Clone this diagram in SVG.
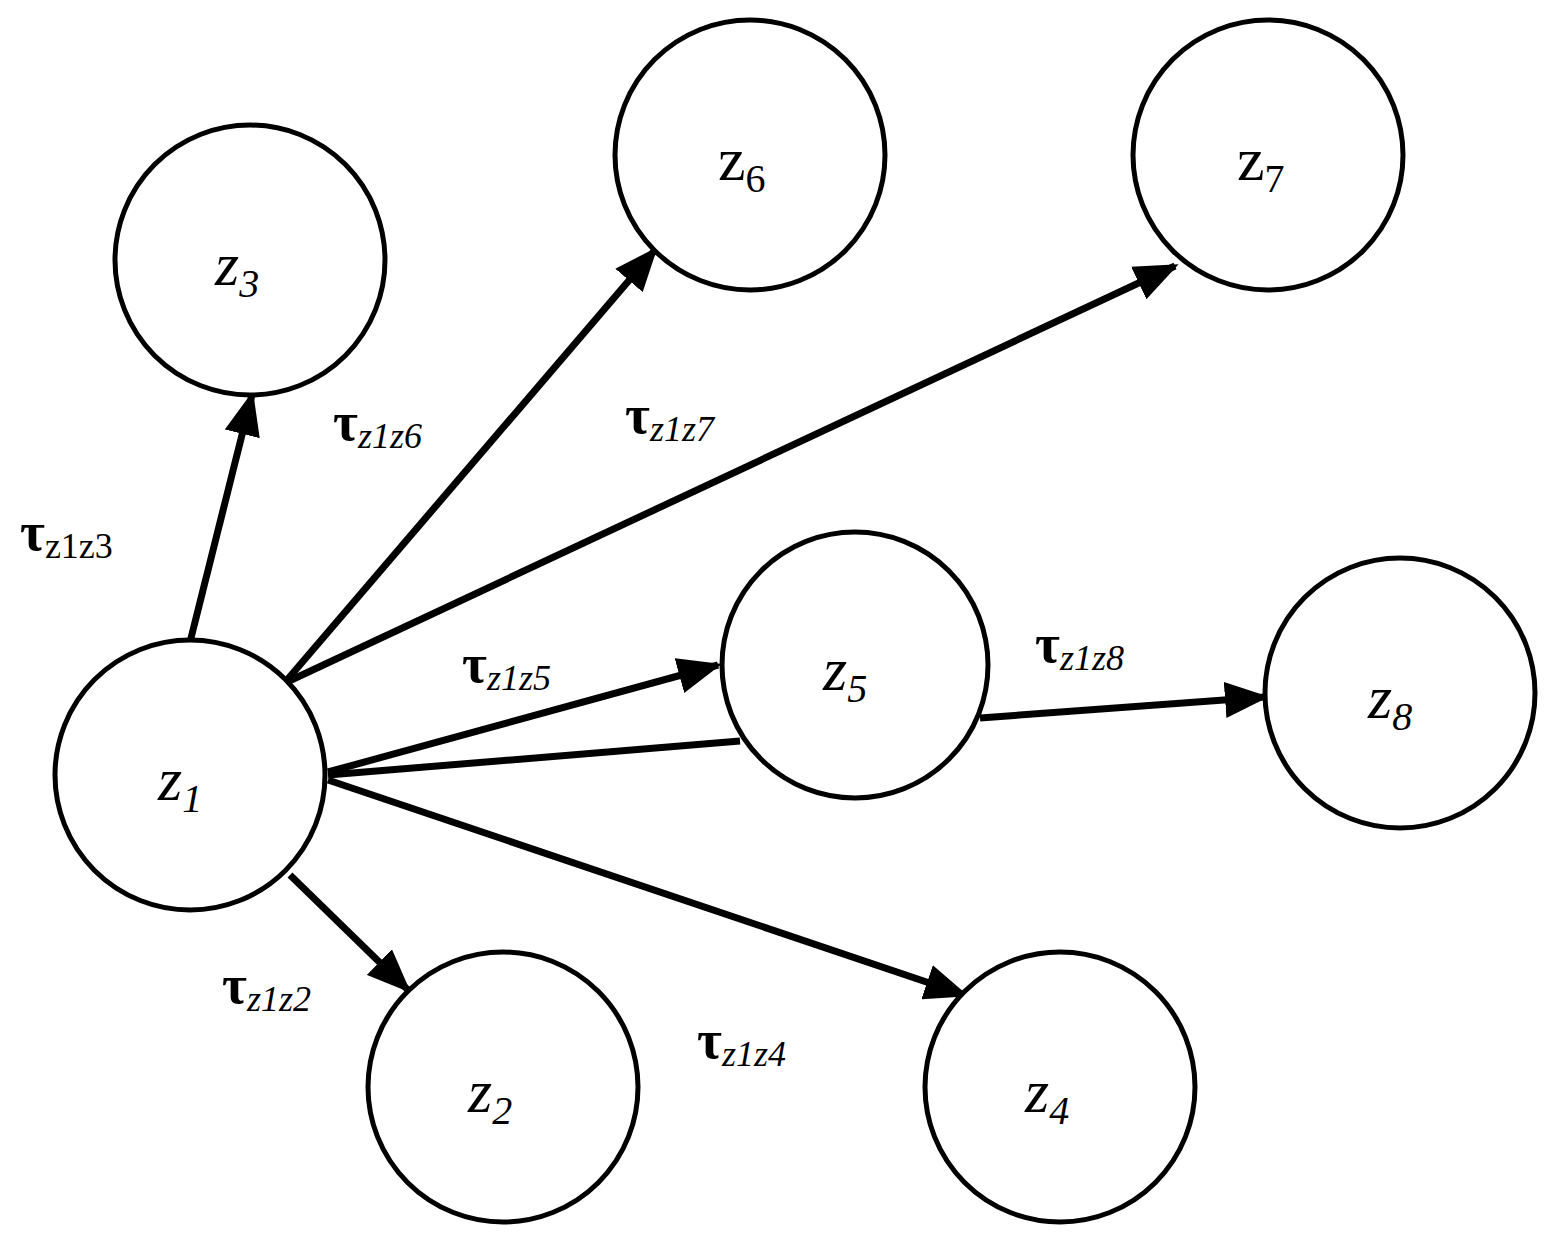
<svg xmlns="http://www.w3.org/2000/svg" width="1560" height="1244" viewBox="0 0 1560 1244">
<style>
.n{fill:#fff;stroke:#000;stroke-width:5}
.t{font-family:"Liberation Serif",serif;font-size:62px;fill:#000}
.s{font-size:40px}
.e{stroke:#000;stroke-width:7;fill:none}
.l{font-family:"Liberation Serif",serif;font-size:54px;font-weight:bold;fill:#000}
.ls{font-size:36px;font-weight:normal;font-style:italic}
</style>
<defs><marker id="a" markerUnits="userSpaceOnUse" markerWidth="44" markerHeight="36" refX="40" refY="18" orient="auto"><path d="M0,0 L44,18 L0,36 Z" fill="#000"/></marker></defs>
<rect width="1560" height="1244" fill="#fff"/>
<g id="connectors">
<line class="e" x1="190" y1="642" x2="252" y2="395" marker-end="url(#a)"/>
<line class="e" x1="287" y1="680" x2="655" y2="250" marker-end="url(#a)"/>
<line class="e" x1="287" y1="682" x2="1175" y2="266" marker-end="url(#a)"/>
<line class="e" x1="328" y1="772" x2="718" y2="665" marker-end="url(#a)"/>
<line class="e" x1="328" y1="775" x2="740" y2="741"/>
<line class="e" x1="980" y1="718" x2="1265" y2="697" marker-end="url(#a)"/>
<line class="e" x1="328" y1="780" x2="965" y2="995" marker-end="url(#a)"/>
<line class="e" x1="290" y1="875" x2="408" y2="990" marker-end="url(#a)"/>
</g>
<g id="z3"><circle class="n" cx="250" cy="260" r="135"/><text class="t" x="215" y="285" font-style="italic">z<tspan class="s" dy="12">3</tspan></text></g>
<g id="z6"><circle class="n" cx="750" cy="155" r="135"/><text class="t" x="718" y="180">z<tspan class="s" dy="12">6</tspan></text></g>
<g id="z7"><circle class="n" cx="1268" cy="155" r="135"/><text class="t" x="1237" y="180">z<tspan class="s" dy="12">7</tspan></text></g>
<g id="z1"><circle class="n" cx="190" cy="775" r="135"/><text class="t" x="158" y="800" font-style="italic">z<tspan class="s" dy="12">1</tspan></text></g>
<g id="z5"><circle class="n" cx="855" cy="665" r="133"/><text class="t" x="823" y="690" font-style="italic">z<tspan class="s" dy="12">5</tspan></text></g>
<g id="z8"><circle class="n" cx="1400" cy="693" r="135"/><text class="t" x="1368" y="718" font-style="italic">z<tspan class="s" dy="12">8</tspan></text></g>
<g id="z2"><circle class="n" cx="503" cy="1087" r="135"/><text class="t" x="468" y="1112" font-style="italic">z<tspan class="s" dy="12">2</tspan></text></g>
<g id="z4"><circle class="n" cx="1060" cy="1087" r="135"/><text class="t" x="1025" y="1112" font-style="italic">z<tspan class="s" dy="12">4</tspan></text></g>
<g id="labels">
<text class="l" x="20" y="550">τ<tspan class="ls" style="font-style:normal" dy="8">z1z3</tspan></text>
<text class="l" x="333" y="440">τ<tspan class="ls" dy="8">z1z6</tspan></text>
<text class="l" x="625" y="433">τ<tspan class="ls" dy="8">z1z7</tspan></text>
<text class="l" x="462" y="682">τ<tspan class="ls" dy="8">z1z5</tspan></text>
<text class="l" x="1035" y="662">τ<tspan class="ls" dy="8">z1z8</tspan></text>
<text class="l" x="222" y="1003">τ<tspan class="ls" dy="8">z1z2</tspan></text>
<text class="l" x="697" y="1058">τ<tspan class="ls" dy="8">z1z4</tspan></text>
</g>
</svg>
